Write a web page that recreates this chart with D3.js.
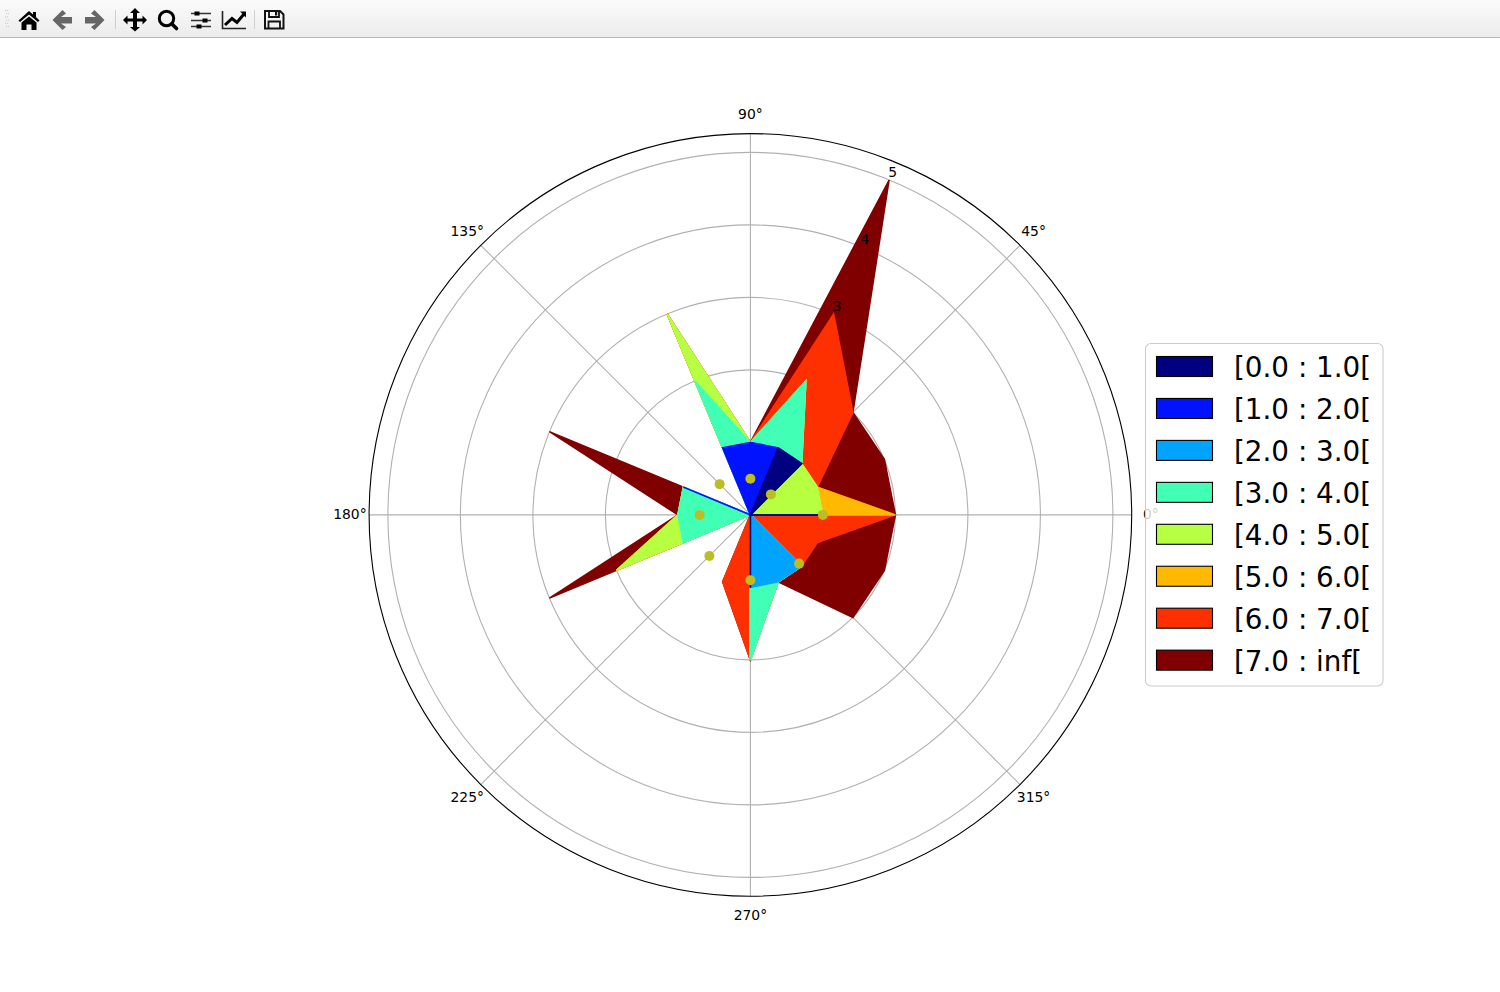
<!DOCTYPE html>
<html><head><meta charset="utf-8">
<script src="https://cdn.jsdelivr.net/npm/d3@7"></script>
<style>html,body{margin:0;padding:0;background:#fff;overflow:hidden}svg{display:block}text{font-family:"DejaVu Sans",sans-serif}</style>
</head><body><svg id="c" width="1500" height="992"></svg>
<script>
// Bin labels and colours
const binLabels = ["[0.0 : 1.0[","[1.0 : 2.0[","[2.0 : 3.0[","[3.0 : 4.0[","[4.0 : 5.0[","[5.0 : 6.0[","[6.0 : 7.0[","[7.0 : inf["];
const binColors = ["#000080","#0012ff","#00a4ff","#41ffb5","#b6ff41","#ffb900","#ff3000","#800000"];
// Counts per 22.5 degree direction sector, starting at 0 degrees, counter-clockwise
const bin0 = [1,0,1,1,0,0,0,0,0,0,0,0,1,0,0,0];
const bin1 = [0,0,0,0,1,1,0,1,0,0,0,0,0,0,0,0];
const bin2 = [0,0,0,0,0,0,0,0,0,0,0,0,0,1,1,0];
const bin3 = [0,0,0,1,0,1,0,0,1,1,0,0,1,0,0,0];
const bin4 = [0,1,0,0,0,1,0,0,0,1,0,0,0,0,0,0];
const bin5 = [1,0,0,0,0,0,0,0,0,0,0,0,0,0,0,0];
const bin6 = [0,0,1,1,0,0,0,0,0,0,0,1,0,0,0,1];
const bin7 = [0,1,0,2,0,0,0,2,0,1,0,0,0,0,1,1];
// Mean points
const meanAngles = [0,45,90,135,180,225,270,315];
const meanValues = [1.0,0.4,0.5,0.6,0.7,0.8,0.9,0.95];
// Axis ticks
const angleTicks = [0,45,90,135,180,225,270,315];
const radialGrid = [2,3,4,5];
const radialLabels = [3,4,5];

const cx = 750.4, cy = 514.9;
const svg = d3.select("#c");
const r = d3.scaleLinear().domain([0,5]).range([0,362.5]);
const outerR = 381.3;
const rad = d => d*Math.PI/180;
const px = (deg,rr) => cx + rr*Math.cos(rad(deg));
const py = (deg,rr) => cy - rr*Math.sin(rad(deg));

// toolbar
const defs = svg.append("defs");
const g0 = defs.append("linearGradient").attr("id","tb").attr("x1",0).attr("x2",0).attr("y1",0).attr("y2",1);
g0.append("stop").attr("offset",0).attr("stop-color","#fbfbfb");
g0.append("stop").attr("offset",1).attr("stop-color","#ececec");
const tb = svg.append("g");
tb.append("rect").attr("width",1500).attr("height",37).attr("fill","url(#tb)");
tb.append("rect").attr("y",37).attr("width",1500).attr("height",1).attr("fill","#b8b8b8");
d3.range(4).forEach(i=>d3.range(6).forEach(j=>tb.append("rect").attr("x",5+i*1).attr("y",10+j*3.2).attr("width",1).attr("height",1).attr("fill",i%2==(j%2)?"#c4c4c4":"#efefef")));
[115.5,254.5].forEach(x=>tb.append("rect").attr("x",x-.5).attr("y",10).attr("width",1).attr("height",19).attr("fill","#cfcfcf"));
tb.append("path").attr("fill","#000").attr("d","M29 11 L33 14.5 V12 H36 V17 L39.5 20.5 L38 22 L29 14.5 L20 22 L18.5 20.5 Z M29 16.5 L36.5 22.5 V30 H31.5 V24.5 H26.5 V30 H21.5 V22.5 Z");
tb.append("path").attr("fill","#666").attr("d","M52.5 20 L62.5 10 L66 13.5 L61 17 H72 V23.5 H61 L66 27 L62.5 30 Z");
tb.append("path").attr("fill","#666").attr("d","M104.5 20 L94.5 10 L91 13.5 L96 17 H85 V23.5 H96 L91 27 L94.5 30 Z");
tb.append("path").attr("fill","#000").attr("d","M135 8 L140 13 H137 V18.5 H142.5 V15.5 L147 20 L142.5 24.5 V21.5 H137 V27 H140 L135 31.5 L130 27 H133 V21.5 H127.5 V24.5 L123 20 L127.5 15.5 V18.5 H133 V13 H130 Z");
tb.append("circle").attr("cx",166.5).attr("cy",18.5).attr("r",7.2).attr("fill","none").attr("stroke","#000").attr("stroke-width",3);
tb.append("path").attr("stroke","#000").attr("stroke-width",3.6).attr("stroke-linecap","round").attr("d","M172 24 L176.5 28.5");
[[13.5,197],[20.5,205],[26.5,199]].forEach(([y,x])=>{
  tb.append("rect").attr("x",191).attr("y",y-.75).attr("width",20).attr("height",1.5).attr("fill","#333");
  tb.append("rect").attr("x",x-2.5).attr("y",y-2).attr("width",5).attr("height",4).attr("fill","#000");
});
tb.append("path").attr("fill","none").attr("stroke","#222").attr("stroke-width",1.6).attr("d","M222.5 11 V28.5 H246");
tb.append("path").attr("fill","none").attr("stroke","#000").attr("stroke-width",3).attr("d","M225 25 L232 18.5 L237 22.5 L244 14");
tb.append("path").attr("fill","#000").attr("d","M240 11.5 H246 V17.5 Z");
tb.append("path").attr("fill","none").attr("stroke","#111").attr("stroke-width",2).attr("d","M265 11 H280 L283.5 14.5 V28.5 H265 Z");
tb.append("path").attr("fill","none").attr("stroke","#111").attr("stroke-width",1.8).attr("d","M269 11 V17 H279 V11 M268.5 28 V21.5 H280 V28");
tb.append("rect").attr("x",275).attr("y",12).attr("width",2.2).attr("height",3.5).attr("fill","#111");

// grid
const plot = svg.append("g");
plot.append("g").selectAll("circle").data(radialGrid).join("circle")
  .attr("cx",cx).attr("cy",cy).attr("r",d=>r(d)).attr("fill","none").attr("stroke","#b0b0b0").attr("stroke-width",1.1);
plot.append("g").selectAll("line").data(angleTicks).join("line")
  .attr("x1",cx).attr("y1",cy).attr("x2",d=>px(d,outerR)).attr("y2",d=>py(d,outerR)).attr("stroke","#b0b0b0").attr("stroke-width",1.1);

// stacked star polygons, low bins on top
const bins = [bin0,bin1,bin2,bin3,bin4,bin5,bin6,bin7];
const sectors = d3.range(16).map(i=>i*22.5);
let running = sectors.map(()=>0);
const cumulative = bins.map(b=>{running = running.map((v,i)=>v+b[i]); return running.slice();});
const radial = d3.lineRadial().angle(d=>rad(90-d[0])).radius(d=>r(d[1])).curve(d3.curveLinearClosed);
const star = svg.append("g").attr("transform",`translate(${cx},${cy})`);
d3.range(7,-1,-1).forEach(i=>{
  const pts = [[0,0]].concat(sectors.map((a,k)=>[a,cumulative[i][k]]),[[360,cumulative[i][0]]]);
  star.append("path").attr("d",radial(pts)).attr("fill",binColors[i]).attr("stroke",binColors[i]).attr("stroke-width",1.5).attr("stroke-linejoin","miter");
});

// means
svg.append("g").selectAll("circle").data(meanAngles).join("circle")
  .attr("cx",(d,i)=>px(d,r(meanValues[i]))).attr("cy",(d,i)=>py(d,r(meanValues[i]))).attr("r",5).attr("fill","#bcbd22");

// frame
svg.append("circle").attr("cx",cx).attr("cy",cy).attr("r",outerR).attr("fill","none").attr("stroke","#000").attr("stroke-width",1.1);

// tick labels
svg.append("g").selectAll("text").data(angleTicks).join("text")
  .attr("x",d=>px(d,outerR+19.2)).attr("y",d=>py(d,outerR+19.2)-0.9).attr("text-anchor","middle").attr("dominant-baseline","central")
  .attr("font-size",13.9).attr("fill","#000").text(d=>d+"\u00b0");
svg.append("g").selectAll("text").data(radialLabels).join("text")
  .attr("x",d=>px(67.5,r(d)+9)).attr("y",d=>py(67.5,r(d)+9)).attr("text-anchor","middle").attr("dominant-baseline","central")
  .attr("font-size",13.9).attr("fill","#000").text(d=>d);

// legend
const lg = svg.append("g");
lg.append("rect").attr("x",1145.5).attr("y",343.5).attr("width",237.5).attr("height",342.5).attr("rx",5.5)
  .attr("fill","#fff").attr("fill-opacity",.8).attr("stroke","#ccc").attr("stroke-width",1.1);
const row = lg.selectAll("g").data(binLabels).join("g").attr("transform",(d,i)=>`translate(0,${i*41.95})`);
row.append("rect").attr("x",1156.5).attr("y",356.5).attr("width",56).attr("height",20).attr("fill",(d,i)=>binColors[i]).attr("stroke","#000").attr("stroke-width",1.1);
row.append("text").attr("x",1234).attr("y",377).attr("font-size",27.8).attr("fill","#000").text(d=>d);
</script></body></html>
